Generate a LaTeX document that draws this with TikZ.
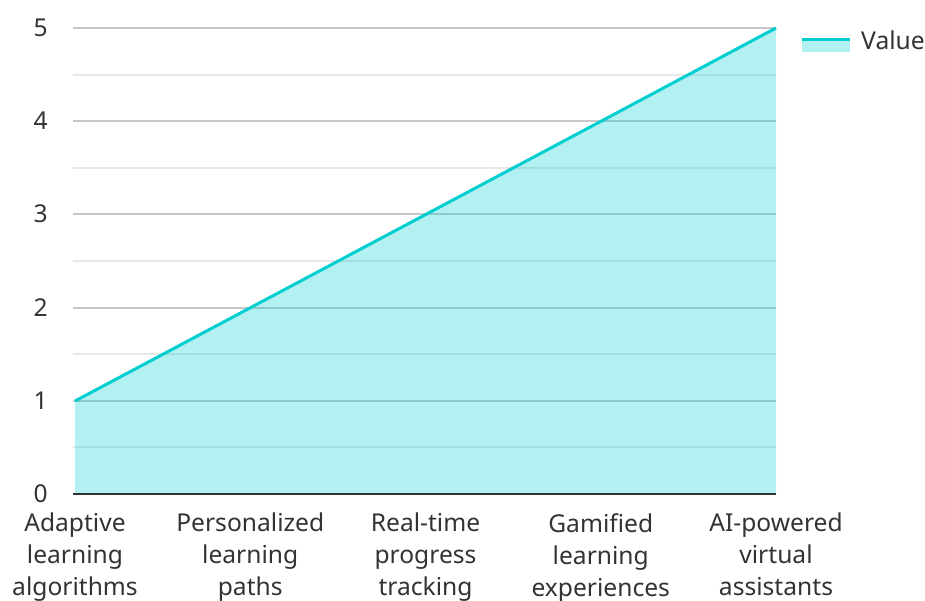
\documentclass[tikz,border=0pt]{standalone}
\usepackage{fontspec}
\setmainfont{Noto Sans}
\definecolor{turq}{HTML}{00CED1}
\definecolor{majgrid}{HTML}{C8C8C8}
\definecolor{mingrid}{HTML}{E8E8E8}
\definecolor{txt}{HTML}{333333}
\begin{document}
\begin{tikzpicture}[x=1pt,y=-1pt,
  lbl/.style={font=\fontsize{24.6}{32}\selectfont, text=txt, inner sep=0pt},
  major/.style={draw=majgrid, line width=1.5pt},
  minor/.style={draw=mingrid, line width=1.5pt},
  dataline/.style={draw=turq, line width=3pt},
  areafill/.style={fill=turq, fill opacity=0.3}]
\useasboundingbox (0,0) rectangle (925,601);
% grid
\foreach \yy in {75,168,261,354,447} \draw[minor] (73,\yy) -- (776,\yy);
\foreach \yy in {28,121,214,308,401} \draw[major] (73,\yy) -- (776,\yy);
% data points
\coordinate (p1) at (75,401);
\coordinate (p2) at (250.25,307.8);
\coordinate (p3) at (425.5,214.6);
\coordinate (p4) at (600.75,121.4);
\coordinate (p5) at (776,28);
\coordinate (b1) at (75,494);
\coordinate (b5) at (776,494);
\fill[areafill] (b1) -- (p1) -- (p2) -- (p3) -- (p4) -- (p5) -- (b5) -- cycle;
\draw[dataline] (p1) -- (p2) -- (p3) -- (p4) -- (p5);
% axis
\coordinate (ax0) at (73,494);
\draw[draw=txt, line width=2pt] (ax0) -- (b5);
% y tick labels
\node[lbl, anchor=east] (y0) at (48,494) {0};
\node[lbl, anchor=east] (y1) at (48,401) {1};
\node[lbl, anchor=east] (y2) at (48,308) {2};
\node[lbl, anchor=east] (y3) at (48,214) {3};
\node[lbl, anchor=east] (y4) at (48,121) {4};
\node[lbl, anchor=east] (y5) at (48,28) {5};
% x labels
\node[lbl, anchor=north, align=center] (x1) at (75,513) {Adaptive\\learning\\algorithms};
\node[lbl, anchor=north, align=center] (x2) at (250.25,513) {Personalized\\learning\\paths};
\node[lbl, anchor=north, align=center] (x3) at (425.5,513) {Real-time\\progress\\tracking};
\node[lbl, anchor=north, align=center] (x4) at (600.75,513) {Gamified\\learning\\experiences};
\node[lbl, anchor=north, align=center] (x5) at (776,513) {AI-powered\\virtual\\assistants};
% legend
\coordinate (lg1) at (802,38);
\coordinate (lg2) at (850,52);
\fill[areafill] (lg1) rectangle (lg2);
\coordinate (ll1) at (802,39.5);
\coordinate (ll2) at (850,39.5);
\draw[dataline] (ll1) -- (ll2);
\node[lbl, anchor=west] (leg) at (861,40) {Value};
\end{tikzpicture}
\end{document}
